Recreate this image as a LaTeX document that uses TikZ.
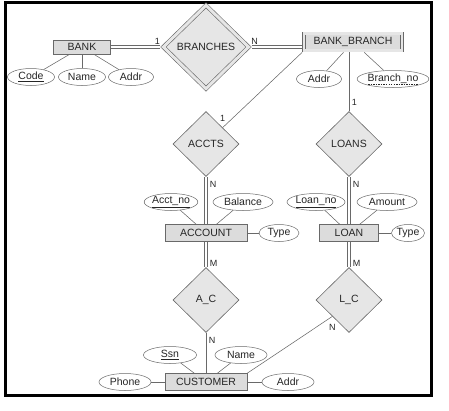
\documentclass[tikz,border=0pt]{standalone}
\usepackage{fontspec}
\setmainfont{Liberation Sans}
\usetikzlibrary{positioning,shapes.geometric}

\definecolor{erline}{RGB}{105,105,105}
\definecolor{erfill}{RGB}{220,220,220}
\definecolor{relfill}{RGB}{230,230,230}

% dashed underline for a partial key
\newcommand{\dashkey}[1]{\sbox0{#1}\rlap{\usebox0}\raisebox{-2.2pt}{\hbox to \wd0{%
    \xleaders\hbox to 2.5pt{\hss\rule{1.4pt}{0.4pt}\hss}\hfill}}}

\begin{document}
\begin{tikzpicture}[
    on grid, % centre to centre distances
    font = \fontsize{10.5}{12}\selectfont,
    text = black!85,
    entity/.style = {rectangle, draw=erline, fill=erfill, minimum width=#1,
                     minimum height=17pt, inner sep=1pt, line width=0.6pt},
    entity/.default = 60pt,
    relation/.style = {diamond, aspect=1, draw=erline, fill=relfill, inner sep=0pt,
                       minimum width=66pt, minimum height=65pt, line width=0.6pt},
    attr/.style = {ellipse, draw=erline, fill=white, minimum width=#1,
                   minimum height=17pt, inner sep=0pt, line width=0.5pt},
    attr/.default = 50pt,
    link/.style = {draw=erline, line width=0.55pt},
    total/.style = {link, double, double distance=2.4pt},
    card/.style = {font=\fontsize{9}{10}\selectfont, inner sep=1.5pt}
    ]

    \useasboundingbox (0,0) rectangle (449pt,-410pt);
    \draw[line width=3pt, black] (5pt,-2.5pt) rectangle (431pt,-395pt);

    % entities and relationships
    \node[entity=57pt, minimum height=14pt] (bank) at (82pt,-47pt) {BANK};
    \node[relation, double=relfill, double distance=3pt, outer sep=2.1pt,
          minimum width=87pt, minimum height=85pt] (branches) [right=124pt of bank] {BRANCHES};
    \node[entity=98pt, minimum height=17pt, double=erfill!70, double distance=2.6pt, outer sep=1.9pt]
          (bank_branch) [above right=5pt and 147pt of branches] {BANK\_BRANCH};
    \node[relation] (accts) [below=97pt of branches] {ACCTS};
    \node[relation] (loans) [right=143pt of accts] {LOANS};
    \node[entity=82pt] (account) [below=89pt of accts] {ACCOUNT};
    \node[entity=59pt] (loan) [below=89pt of loans] {LOAN};
    \node[relation] (ac) [below=67pt of account] {A\_C};
    \node[relation] (lc) [below=67pt of loan] {L\_C};
    \node[entity=82pt] (customer) [below=82pt of ac] {CUSTOMER};

    % attributes
    \node[attr=47pt] (code) [below left=30pt and 51pt of bank] {\underline{Code}};
    \node[attr=47pt] (bname) [below=30pt of bank] {Name};
    \node[attr=45pt] (baddr) [below right=30pt and 49pt of bank] {Addr};
    \node[attr=45pt] (bbaddr) [below left=37pt and 34pt of bank_branch] {Addr};
    \node[attr=70pt] (bno) [below right=37pt and 40pt of bank_branch] {\dashkey{Branch\_no}};
    \node[attr=52pt] (acctno) [above left=31pt and 35pt of account] {\underline{Acct\_no}};
    \node[attr=60pt] (balance) [above right=31pt and 37pt of account] {Balance};
    \node[attr=40pt] (atype) [right=73pt of account] {Type};
    \node[attr=58pt] (loanno) [above left=31pt and 33pt of loan] {\underline{Loan\_no}};
    \node[attr=60pt] (amount) [above right=31pt and 38pt of loan] {Amount};
    \node[attr=33pt] (ltype) [right=59pt of loan] {Type};
    \node[attr=53pt] (ssn) [above left=27pt and 36pt of customer] {\underline{Ssn}};
    \node[attr=52pt] (cname) [above right=27pt and 35pt of customer] {Name};
    \node[attr=52pt] (phone) [left=81pt of customer] {Phone};
    \node[attr=52pt] (caddr) [right=82pt of customer] {Addr};

    % relationship links
    \draw[total] (bank) -- node[card, pos=0.94, above=1pt]{1} (branches);
    \draw[total] (branches.east) -- node[card, pos=0.06, above=1pt]{N} (branches.east -| bank_branch.west);
    \draw[link] (bank_branch.south west) -- node[card, pos=1, above=4pt]{1} (accts.north east);
    \draw[link] (loans) -- node[card, pos=0.15, right=1pt]{1} (loans |- bank_branch.south);
    \draw[total] (accts) -- node[card, pos=0.15, right=2pt]{N} (account);
    \draw[total] (loans) -- node[card, pos=0.15, right=2pt]{N} (loan);
    \draw[total] (account) -- node[card, pos=0.85, right=2pt]{M} (ac);
    \draw[total] (loan) -- node[card, pos=0.85, right=2pt]{M} (lc);
    \draw[link] (ac) -- node[card, pos=0.2, right=1pt]{N} (customer);
    \draw[link] (lc.south west) -- node[card, pos=0, below=6pt]{N} (customer.north east);

    % attribute links
    \draw[link] (code) -- (bank);
    \draw[link] (bname) -- (bank);
    \draw[link] (baddr) -- (bank);
    \draw[link] (bbaddr) -- (bank_branch);
    \draw[link] (bno) -- (bank_branch);
    \draw[link] (acctno) -- (account);
    \draw[link] (balance) -- (account);
    \draw[link] (atype) -- (account);
    \draw[link] (loanno) -- (loan);
    \draw[link] (amount) -- (loan);
    \draw[link] (ltype) -- (loan);
    \draw[link] (ssn) -- (customer);
    \draw[link] (cname) -- (customer);
    \draw[link] (phone) -- (customer);
    \draw[link] (caddr) -- (customer);
\end{tikzpicture}
\end{document}
